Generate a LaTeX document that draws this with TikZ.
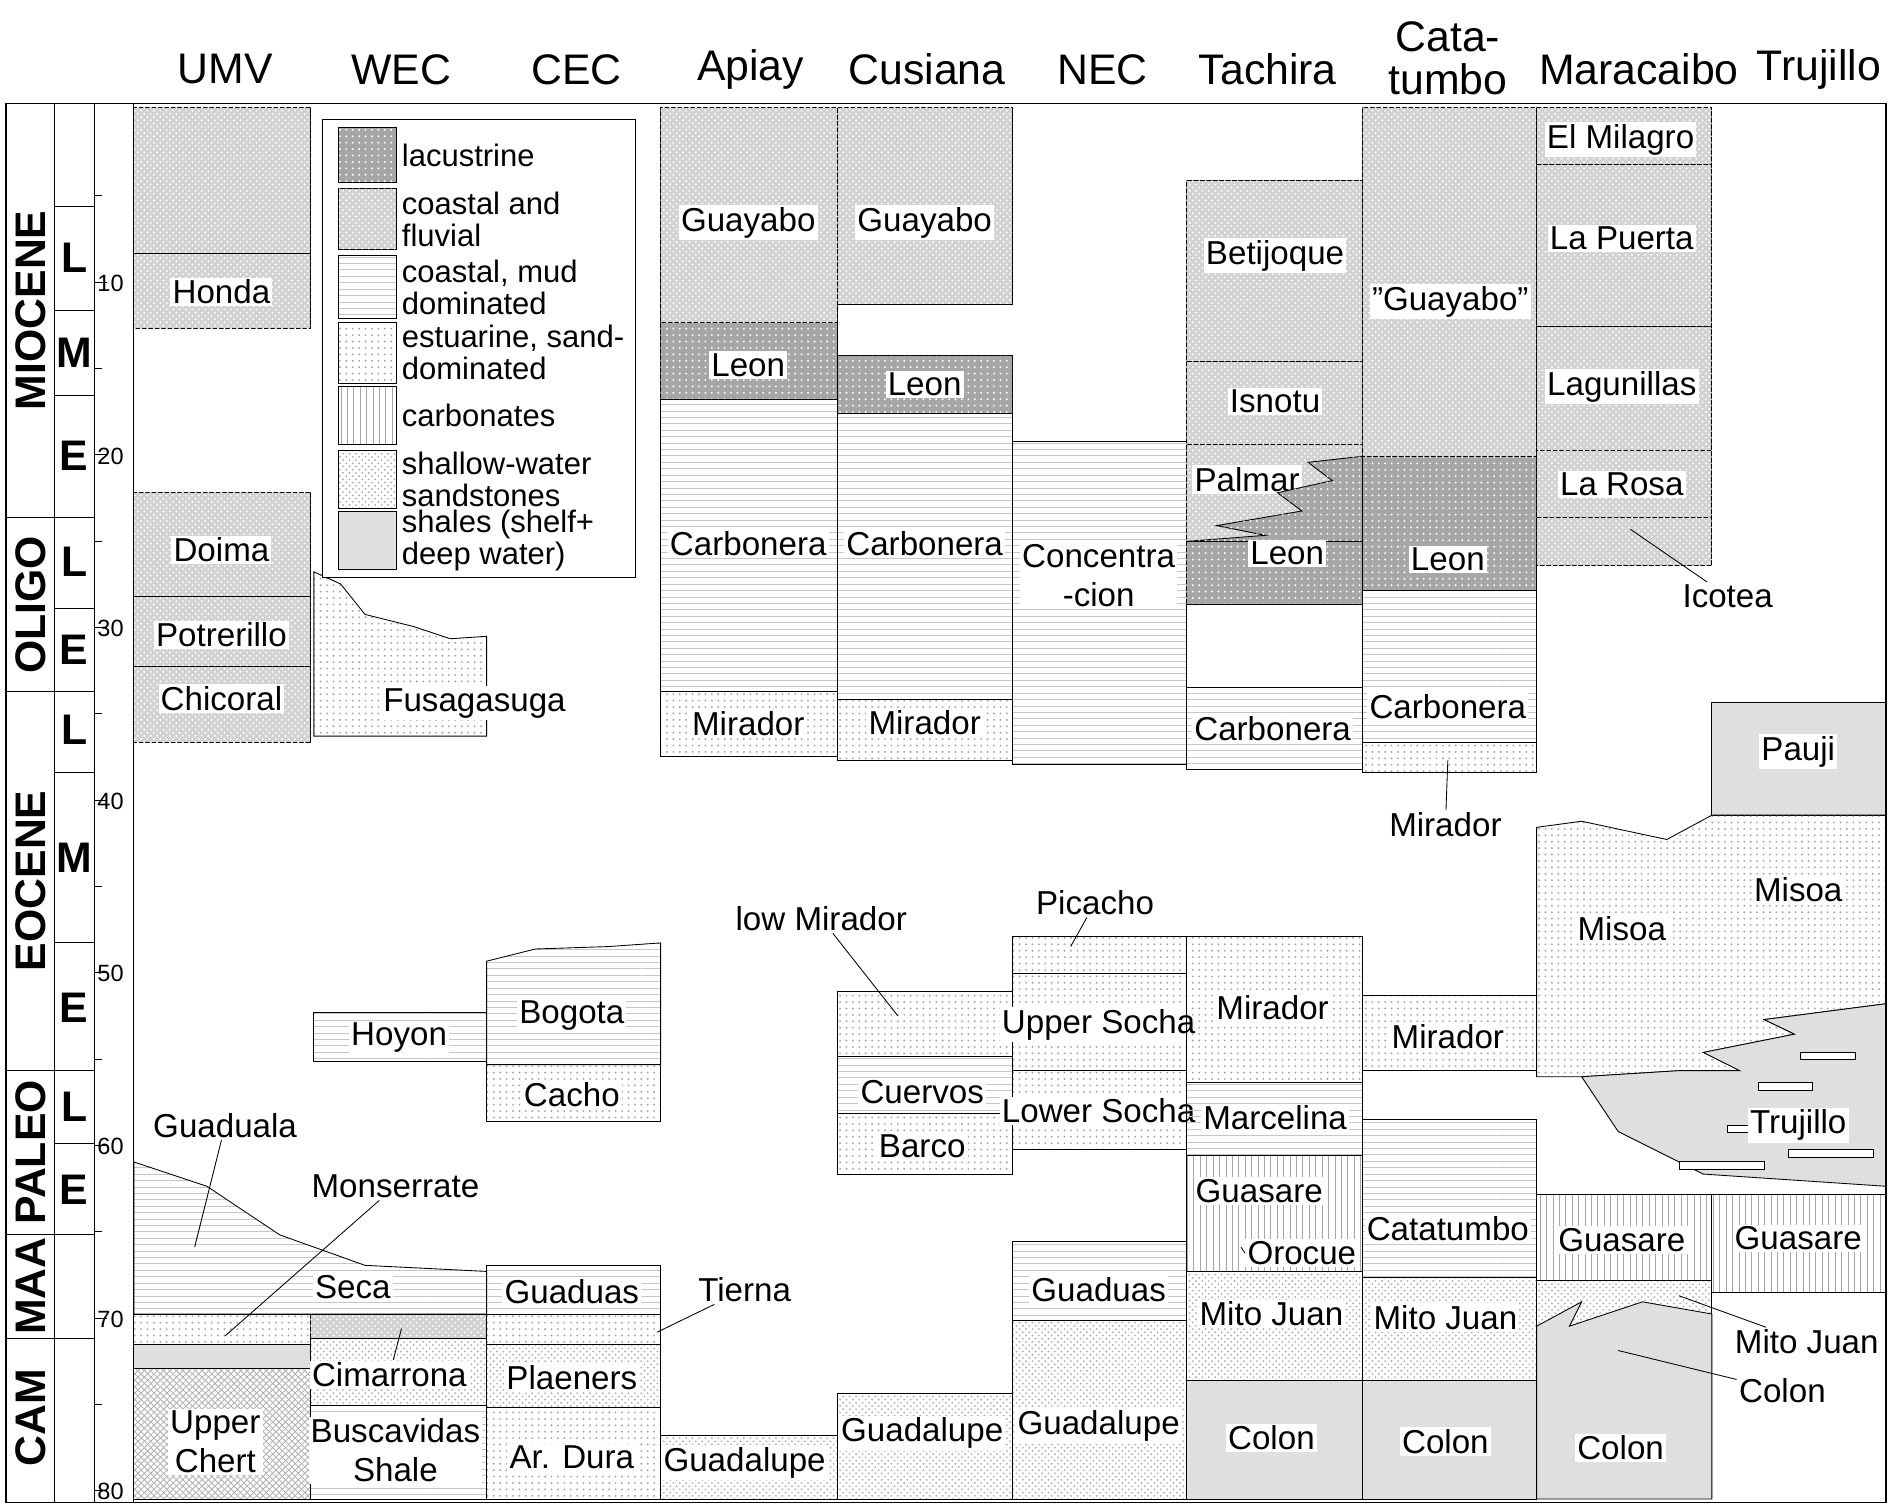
\documentclass[tikz,border=0pt]{standalone}
\usepackage{fontspec}
\setmainfont{Liberation Sans}
\usetikzlibrary{patterns}
\begin{document}
\begin{tikzpicture}[x=0.02cm,y=-0.02cm,
 cf/.style={draw,fill=gray!35,postaction={pattern=crosshatch dots,pattern color=white}},
 mud/.style={draw,pattern=horizontal lines,pattern color=gray!45},
 est/.style={draw,pattern=dots,pattern color=gray!70},
 carb/.style={draw,pattern=vertical lines,pattern color=gray!70},
 sws/.style={draw,pattern=crosshatch dots,pattern color=gray!60},
 sh/.style={draw,fill=gray!25},
 lac/.style={draw,fill=gray!70,postaction={pattern=dots,pattern color=white}},
 chert/.style={draw,pattern=crosshatch,pattern color=gray!60},
 lbl/.style={fill=white,inner sep=1pt,font=\fontsize{15.5}{18}\selectfont},
 lblb/.style={inner sep=1pt,font=\fontsize{15.5}{18}\selectfont,align=center},
 hd/.style={font=\fontsize{20}{20}\selectfont,align=center},
 big/.style={font=\fontsize{20}{20}\selectfont\bfseries},
 tk/.style={font=\fontsize{11}{11}\selectfont,inner sep=1pt},
 ld/.style={thin}]
\useasboundingbox (0,0) rectangle (1560,1240);
% headers
\foreach \n/\x in {UMV/185,WEC/330,CEC/474,Apiay/617,Cusiana/762,NEC/906,Tachira/1042,Maracaibo/1347,Trujillo/1495}
 \node[hd] (h\n) at (\x,57) {\n};
\node[hd] (hCat) at (1190,48) {Cata-\\tumbo};
% UMV
\path[cf] (110,88) rectangle (255,270); \draw (110,208)--(255,208);
\node[lbl] (honda) at (182,240) {Honda};
\path[cf] (110,405) rectangle (255,490); \node[lbl] (doima) at (182,452) {Doima};
\path[cf] (110,490) rectangle (255,548); \node[lbl] (potr) at (182,522) {Potrerillo};
\path[cf] (110,548) rectangle (255,610); \node[lbl] (chic) at (182,574) {Chicoral};
\path[mud] (110,955) -- (170,975) -- (230,1015) -- (300,1040) -- (400,1045) -- (400,1080) -- (110,1080) -- cycle;
\node[lbl] (seca) at (290,1058) {Seca};
\path[est] (110,1080) rectangle (255,1105);
\path[sh] (110,1105) rectangle (255,1125);
\path[chert] (110,1125) rectangle (255,1232);
\node[lbl,align=center] (uch) at (177,1185) {Upper\\Chert};
% WEC
\path[est] (258,470) -- (280,480) -- (300,505) -- (340,515) -- (370,525) -- (400,523) -- (400,605) -- (258,605) -- cycle;
\node[lbl] (fusa) at (390,578) {Fusagasuga};
\path[mud] (258,832) rectangle (400,872); \node[lbl] (hoyon) at (328,853) {Hoyon};
\path[cf] (255,1080) rectangle (400,1100);
\path[sws] (255,1100) rectangle (400,1155); \node[lbl] (cima) at (320,1130) {Cimarrona};
\path[mud] (255,1155) rectangle (400,1232); \node[lbl,align=center] (busc) at (325,1192) {Buscavidas\\Shale};
% CEC
\path[mud] (400,790) -- (440,780) -- (500,778) -- (543,775) -- (543,875) -- (400,875) -- cycle;
\node[lbl] (bog) at (470,835) {Bogota};
\path[est] (400,875) rectangle (543,922); \node[lbl] (cacho) at (470,900) {Cacho};
\path[mud] (400,1040) rectangle (543,1080); \node[lbl] (guad1) at (470,1062) {Guaduas};
\path[est] (400,1080) rectangle (543,1105);
\path[sws] (400,1105) rectangle (543,1157); \node[lbl] (plae) at (470,1132) {Plaeners};
\path[est] (400,1157) rectangle (543,1232); \node[lbl] (ardura) at (470,1198) {Ar. Dura};
% Apiay
\path[cf] (543,88) rectangle (688,265); \node[lbl] (guay1) at (615,183) {Guayabo};
\path[lac] (543,265) rectangle (688,328); \node[lbl] (leon1) at (615,300) {Leon};
\path[mud] (543,328) rectangle (688,568); \node[lbl] (carb1) at (615,447) {Carbonera};
\path[est] (543,568) rectangle (688,622); \node[lbl] (mir1) at (615,595) {Mirador};
\path[sws] (543,1180) rectangle (688,1232); \node[lbl] (gdl1) at (612,1202) {Guadalupe};
% Cusiana
\path[cf] (688,88) rectangle (832,250); \node[lbl] (guay2) at (760,183) {Guayabo};
\path[lac] (688,292) rectangle (832,340); \node[lbl] (leon2) at (760,316) {Leon};
\path[mud] (688,340) rectangle (832,575); \node[lbl] (carb2) at (760,447) {Carbonera};
\path[est] (688,575) rectangle (832,625); \node[lbl] (mir2) at (760,594) {Mirador};
\path[est] (688,815) rectangle (832,868);
\path[mud] (688,868) rectangle (832,915); \node[lbl] (cuer) at (758,898) {Cuervos};
\path[est] (688,915) rectangle (832,965); \node[lbl] (barco) at (758,942) {Barco};
\path[sws] (688,1145) rectangle (832,1232); \node[lbl] (gdl2) at (758,1178) {Guadalupe};
% NEC
\path[mud] (832,363) rectangle (975,628); \node[lbl,align=center] (conc) at (903,473) {Concentra\\-cion};
\path[est] (832,770) rectangle (975,800);
\path[est] (832,800) rectangle (975,880); \node[lbl] (usoc) at (903,842) {Upper Socha};
\path[est] (832,880) rectangle (975,945); \node[lbl] (lsoc) at (903,913) {Lower Socha};
\path[mud] (832,1020) rectangle (975,1085); \node[lbl] (guad2) at (903,1060) {Guaduas};
\path[sws] (832,1085) rectangle (975,1232); \node[lbl] (gdl3) at (903,1172) {Guadalupe};
% Tachira
\path[cf] (975,148) rectangle (1120,297); \node[lbl] (betij) at (1048,210) {Betijoque};
\path[cf] (975,297) rectangle (1120,365); \node[lbl] (isno) at (1048,330) {Isnotu};
\path[cf] (975,365) rectangle (1120,445); \node[lbl] (palm) at (1025,394) {Palmar};
\path[lac] (975,445) rectangle (1120,497);
\path[lac] (1120,375) -- (1075,380) -- (1095,395) -- (1050,405) -- (1070,420) -- (1000,432) -- (1040,440) -- (975,445) -- (1120,445) -- cycle;
\node[lbl] (leon3) at (1058,455) {Leon};
\path[draw] (975,497) rectangle (1120,565);
\path[mud] (975,565) rectangle (1120,632); \node[lbl] (carb3) at (1046,599) {Carbonera};
\path[est] (975,770) rectangle (1120,890); \node[lbl] (mir3) at (1046,828) {Mirador};
\path[mud] (975,890) rectangle (1120,950); \node[lbl] (marc) at (1048,919) {Marcelina};
\path[carb] (975,950) rectangle (1120,1045); \node[lbl] (guas1) at (1035,979) {Guasare};
\node[lbl] (oroc) at (1070,1030) {Orocue};
\path[sws] (975,1045) rectangle (1120,1135); \node[lbl] (mj1) at (1045,1080) {Mito Juan};
\path[sh] (975,1135) rectangle (1120,1232); \node[lbl] (colon1) at (1045,1182) {Colon};
% Catatumbo
\path[cf] (1120,88) rectangle (1263,375); \node[lbl] (guay3) at (1192,248) {"Guayabo"};
\path[lac] (1120,375) rectangle (1263,485); \node[lbl] (leon4) at (1190,460) {Leon};
\path[mud] (1120,485) rectangle (1263,610); \node[lbl] (carb4) at (1190,581) {Carbonera};
\path[est] (1120,610) rectangle (1263,635);
\node[lblb] (mir4) at (1188,678) {Mirador};
\path[est] (1120,818) rectangle (1263,880); \node[lbl] (mir5) at (1190,852) {Mirador};
\path[mud] (1120,920) rectangle (1263,1050); \node[lbl] (catat) at (1190,1010) {Catatumbo};
\path[sws] (1120,1050) rectangle (1263,1135); \node[lbl] (mj2) at (1188,1083) {Mito Juan};
\path[sh] (1120,1135) rectangle (1263,1232); \node[lbl] (colon2) at (1188,1185) {Colon};
% Maracaibo
\path[cf] (1263,88) rectangle (1407,135); \node[lbl] (milag) at (1332,115) {El Milagro};
\path[cf] (1263,135) rectangle (1407,268); \node[lbl] (puer) at (1333,196) {La Puerta};
\path[cf] (1263,268) rectangle (1407,370); \node[lbl] (lagu) at (1333,318) {Lagunillas};
\path[cf] (1263,370) rectangle (1407,425); \node[lbl] (rosa) at (1333,398) {La Rosa};
\path[cf] (1263,425) rectangle (1407,465);
\node[lblb] (icot) at (1420,490) {Icotea};
\path[sh] (1407,577) rectangle (1550,670); \node[lbl] (pauji) at (1478,618) {Pauji};
\path[est] (1263,680) -- (1300,675) -- (1370,690) -- (1407,670) -- (1550,670) -- (1550,825)
  -- (1450,838) -- (1475,850) -- (1400,865) -- (1430,880) -- (1380,880) -- (1300,885) -- (1263,885) -- cycle;
\path[sh] (1550,825) -- (1450,838) -- (1475,850) -- (1400,865) -- (1430,880) -- (1380,880) -- (1300,885)
  -- (1330,930) -- (1400,965) -- (1550,975) -- cycle;
\foreach \y/\a/\b in {865/1480/1525,890/1445/1490,925/1420/1500,945/1470/1540,955/1380/1450}
  \draw[fill=white] (\a,\y) rectangle (\b,\y+6);
\node[lbl] (misoa1) at (1333,763) {Misoa};
\node[lbl] (misoa2) at (1478,731) {Misoa};
\node[lbl] (truj) at (1478,925) {Trujillo};
\path[carb] (1263,982) rectangle (1407,1052); \node[lbl] (guas2) at (1333,1019) {Guasare};
\path[carb] (1407,982) rectangle (1550,1062); \node[lbl] (guas3) at (1478,1018) {Guasare};
\path[sws] (1263,1052) rectangle (1407,1090);
\path[sh] (1263,1090) -- (1300,1070) -- (1290,1090) -- (1350,1070) -- (1407,1080) -- (1407,1232) -- (1263,1232) -- cycle;
\node[lbl] (colon3) at (1332,1190) {Colon};
\node[lblb] (mj3) at (1485,1103) {Mito Juan};
\node[lblb] (colon4) at (1465,1143) {Colon};
% free labels
\node[lblb] (guadl) at (185,925) {Guaduala};
\node[lblb] (monse) at (325,975) {Monserrate};
\node[lblb] (tiern) at (612,1060) {Tierna};
\node[lblb] (lmir) at (675,755) {low Mirador};
\node[lblb] (pica) at (900,742) {Picacho};
\coordinate (c1) at (160,1025); \coordinate (c2) at (185,1098);
\coordinate (c3) at (540,1095); \coordinate (c4) at (738,835);
\coordinate (c5) at (880,778); \coordinate (c6) at (1190,625);
\coordinate (c7) at (1340,435); \coordinate (c8) at (1380,1065);
\coordinate (c9) at (1330,1110); \coordinate (c10) at (1020,1025);
\coordinate (c11) at (330,1092);
\draw[ld] (guadl) -- (c1); \draw[ld] (monse) -- (c2); \draw[ld] (tiern) -- (c3);
\draw[ld] (lmir) -- (c4); \draw[ld] (pica) -- (c5); \draw[ld] (mir4) -- (c6);
\draw[ld] (icot) -- (c7); \draw[ld] (mj3) -- (c8); \draw[ld] (colon4) -- (c9);
\draw[ld] (oroc.west) -- (c10); \draw[ld] (cima) -- (c11);
% legend
\draw[fill=white] (265,98) rectangle (522,475);
\foreach \s/\a/\b/\t in {lac/105/150/lacustrine,cf/155/205/{coastal and\\fluvial},mud/210/262/{coastal, mud\\dominated},est/265/315/{estuarine, sand-\\dominated},carb/318/365/carbonates,sws/370/418/{shallow-water\\sandstones},sh/420/468/{shales (shelf+\\deep water)}}{
 \path[\s] (278,\a) rectangle (326,\b);
 \node[anchor=west,align=left,inner sep=0pt,font=\fontsize{14.5}{15}\selectfont] at (330,{(\a+\b)/2}) {\t};}
% left axis
\draw[thick] (5,85) rectangle (1550,1235);
\draw (45,85)--(45,1235); \draw (78,85)--(78,1235); \draw (110,85)--(110,1235);
\foreach \y in {425,568,880,1015,1100} \draw (5,\y)--(78,\y);
\foreach \y in {170,255,325,500,635,775,940} \draw (45,\y)--(78,\y);
\foreach \t/\y in {MIOCENE/255,OLIGO/497,EOCENE/724,PALEO/947,MAA/1057,CAM/1165}
 \node[big,rotate=90] (e\t) at (25,\y) {\t};
\foreach \t/\y [count=\i] in {L/212,M/290,E/375,L/462,E/534,L/600,M/705,E/828,L/910,E/978}
 \node[big] (s\i) at (61,\y) {\t};
\foreach \a in {10,20,...,80} {\draw (78,{90+14.19*\a})--(88,{90+14.19*\a});
 \node[tk,anchor=north west] at (78,{90+14.19*\a-8}) {\a};}
\foreach \a in {5,15,...,75} \draw (78,{90+14.19*\a})--(84,{90+14.19*\a});
\end{tikzpicture}
\end{document}
